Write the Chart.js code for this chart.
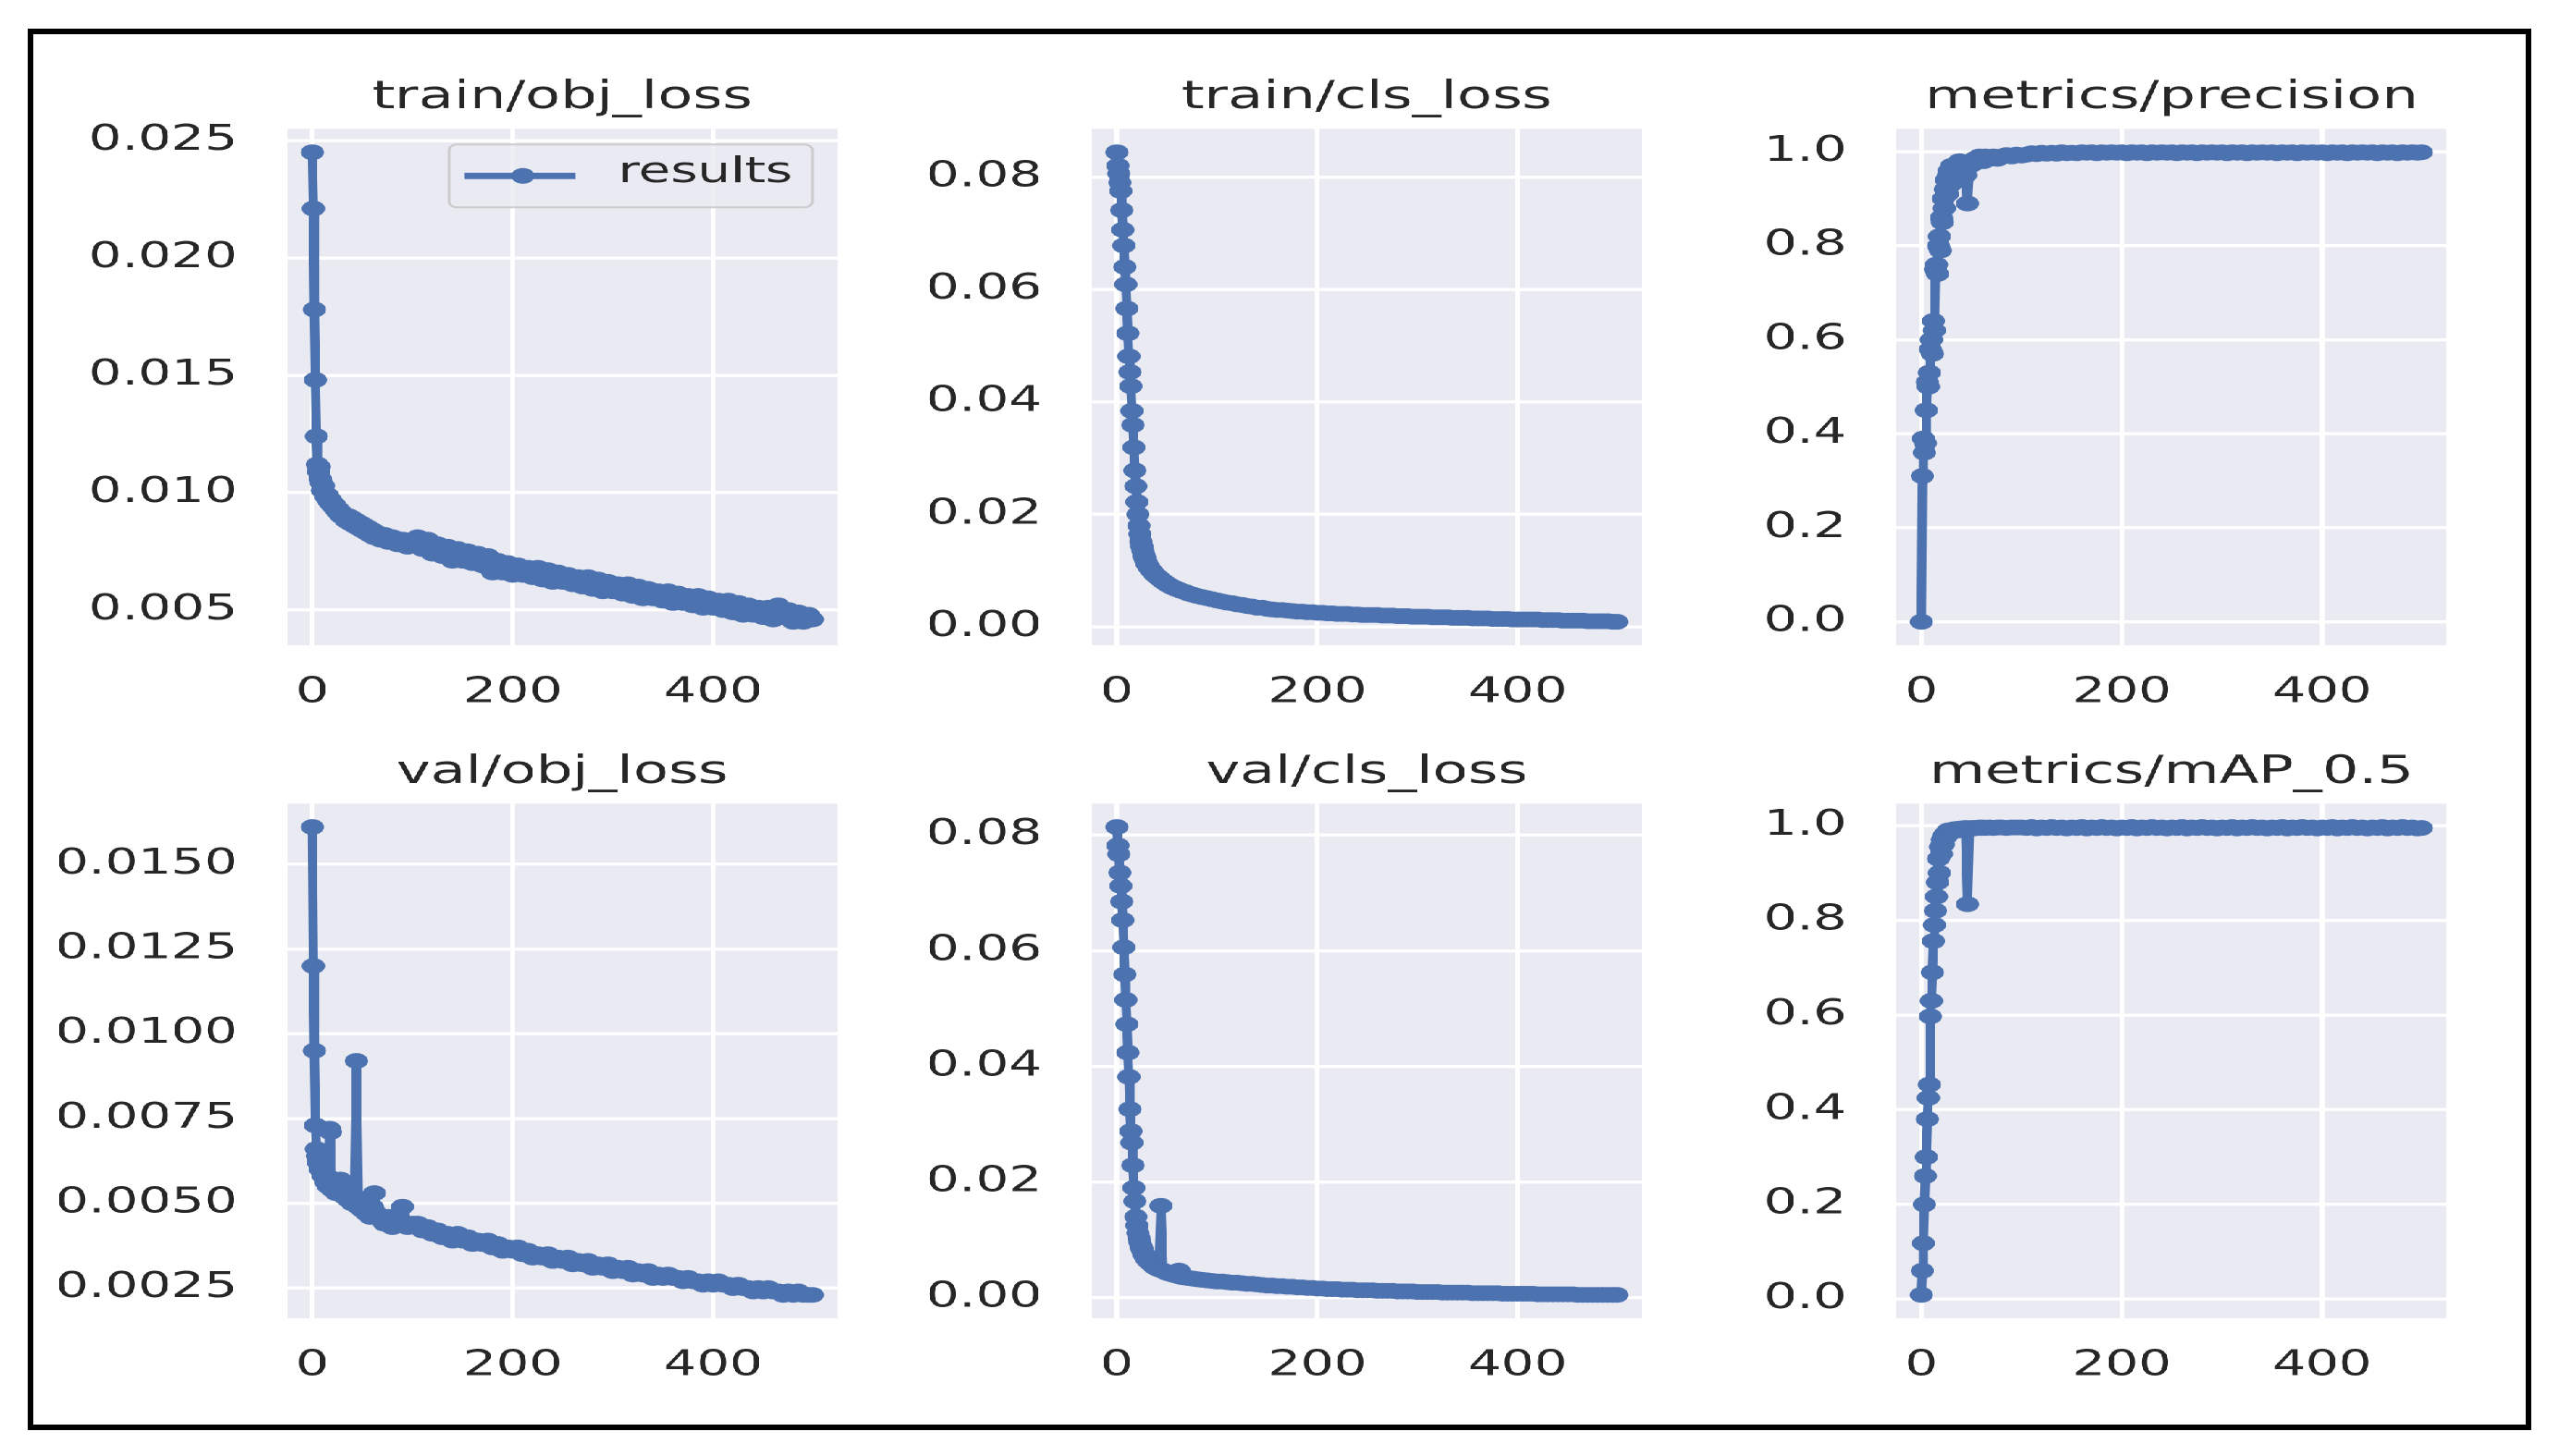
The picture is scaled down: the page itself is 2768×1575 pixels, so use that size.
<!DOCTYPE html>
<html>
<head>
<meta charset="utf-8">
<title>results</title>
<script src="https://cdn.jsdelivr.net/npm/chart.js@4.4.1/dist/chart.umd.min.js"></script>
<style>
  html, body { margin: 0; padding: 0; background: #ffffff; }
  body { width: 2768px; height: 1575px; position: relative; overflow: hidden; }
  #frame { position: absolute; left: 30px; top: 31px; width: 2708px; height: 1516px; border: 6px solid #000; box-sizing: border-box; }
  /* the picture is stretched sideways, so the panels are drawn narrow and widened */
  #stretch { position: absolute; left: 0; top: 0; width: 1871px; height: 1575px; transform: scaleX(1.48); transform-origin: 0 0; }
  .panel { position: absolute; }
</style>
</head>
<body>
<div id="frame"></div>
<div id="stretch"></div>
<script>
const epochs = [0, 1, 2, 3, 4, 5, 6, 7, 8, 9, 10, 11, 12, 13, 14, 15, 16, 17, 18, 19, 20, 21, 22, 23, 24, 25, 26, 27, 28, 29, 30,
    32, 34, 36, 38, 40, 42, 44, 46, 48, 50, 52, 54, 56, 58, 60, 62, 64,
    68, 72, 76, 80, 85, 90, 95, 100,
    105, 110, 115, 120, 125, 130, 135, 140, 145, 150,
    155, 160, 165, 170, 175, 180, 185, 190, 195, 200,
    205, 210, 215, 220, 225, 230, 235, 240, 245, 250,
    255, 260, 265, 270, 275, 280, 285, 290, 295, 300,
    305, 310, 315, 320, 325, 330, 335, 340, 345, 350,
    355, 360, 365, 370, 375, 380, 385, 390, 395, 400,
    405, 410, 415, 420, 425, 430, 435, 440, 445, 450,
    455, 460, 465, 470, 475, 480, 485, 490, 495,
    499];

const trainObjLoss = [0.0245, 0.0221, 0.0178, 0.0148, 0.0124, 0.0112, 0.0109, 0.0111, 0.0106, 0.0104, 0.0101, 0.0103, 0.0100, 0.0099, 0.0098, 0.0099, 0.0097, 0.0096, 0.0097, 0.0095, 0.0095, 0.0094, 0.0095, 0.0093, 0.0093, 0.0092, 0.0093, 0.0091, 0.0092, 0.0090, 0.0091,
    0.0090, 0.0088, 0.0090, 0.0087, 0.0089, 0.0086, 0.0088, 0.0085, 0.0087, 0.0084, 0.0086, 0.0083, 0.0085, 0.0082, 0.0084, 0.0081, 0.0083,
    0.0080, 0.0082, 0.0079, 0.0081, 0.0078, 0.0080, 0.0077, 0.0079,
    0.0081, 0.0076, 0.0080, 0.0074, 0.0078, 0.0073, 0.0077, 0.0071, 0.0076, 0.0071,
    0.0075, 0.0070, 0.0074, 0.0069, 0.0073, 0.0066, 0.0071, 0.0066, 0.0070, 0.0065,
    0.0069, 0.0065, 0.0068, 0.0064, 0.0068, 0.0063, 0.0067, 0.0062, 0.0066, 0.0062,
    0.0065, 0.0061, 0.0064, 0.0060, 0.0064, 0.0059, 0.0063, 0.0058, 0.0062, 0.0058,
    0.0061, 0.0057, 0.0061, 0.0056, 0.0060, 0.0055, 0.0059, 0.0055, 0.0058, 0.0054,
    0.0058, 0.0053, 0.0057, 0.0053, 0.0056, 0.0052, 0.0056, 0.0051, 0.0055, 0.0051,
    0.0054, 0.0050, 0.0054, 0.0049, 0.0053, 0.0048, 0.0052, 0.0048, 0.0051, 0.0047,
    0.0051, 0.0046, 0.0052, 0.0047, 0.0050, 0.0045, 0.0049, 0.0045, 0.0048,
    0.0046];

const trainClsLoss = [0.0844, 0.0820, 0.0806, 0.0790, 0.0775, 0.0741, 0.0706, 0.0678, 0.0640, 0.0609, 0.0566, 0.0522, 0.0481, 0.0453, 0.0428, 0.0384, 0.0359, 0.0319, 0.0278, 0.0250, 0.0222, 0.0200, 0.0180, 0.0165, 0.0152, 0.0143, 0.0135, 0.0128, 0.0122, 0.0117, 0.0112,
    0.0106, 0.0101, 0.0097, 0.0093, 0.0090, 0.0087, 0.0084, 0.0081, 0.0079, 0.0076, 0.0074, 0.0072, 0.0070, 0.0069, 0.0067, 0.0066, 0.0064,
    0.0062, 0.0059, 0.0057, 0.0055, 0.0053, 0.0051, 0.0049, 0.0047,
    0.0045, 0.0043, 0.0042, 0.0040, 0.0039, 0.0037, 0.0036, 0.0034, 0.0034, 0.0032,
    0.0031, 0.0030, 0.0030, 0.0029, 0.0028, 0.0027, 0.0027, 0.0026, 0.0026, 0.0025,
    0.0025, 0.0024, 0.0024, 0.0023, 0.0023, 0.0023, 0.0022, 0.0022, 0.0021, 0.0021,
    0.0021, 0.0021, 0.0020, 0.0020, 0.0020, 0.0019, 0.0019, 0.0019, 0.0018, 0.0018,
    0.0018, 0.0018, 0.0017, 0.0017, 0.0017, 0.0017, 0.0016, 0.0016, 0.0016, 0.0016,
    0.0015, 0.0015, 0.0015, 0.0015, 0.0014, 0.0014, 0.0014, 0.0014, 0.0013, 0.0013,
    0.0013, 0.0013, 0.0013, 0.0013, 0.0012, 0.0012, 0.0012, 0.0012, 0.0011, 0.0011,
    0.0011, 0.0011, 0.0011, 0.0010, 0.0010, 0.0010, 0.0010, 0.0010, 0.0009,
    0.0009];

const precision = [0.000, 0.310, 0.390, 0.360, 0.380, 0.450, 0.510, 0.500, 0.530, 0.580, 0.600, 0.570, 0.640, 0.620, 0.750, 0.760, 0.740, 0.800, 0.820, 0.790, 0.860, 0.850, 0.900, 0.880, 0.920, 0.940, 0.910, 0.950, 0.960, 0.930, 0.970,
    0.950, 0.970, 0.940, 0.980, 0.960, 0.975, 0.950, 0.890, 0.970, 0.980, 0.975, 0.985, 0.980, 0.990, 0.985, 0.980, 0.990,
    0.985, 0.990, 0.985, 0.990, 0.993, 0.990, 0.994, 0.992,
    0.994, 0.997, 0.995, 0.998, 0.996, 0.998, 0.996, 0.999, 0.997, 0.998,
    0.997, 0.999, 0.998, 0.999, 0.997, 0.999, 0.998, 0.999, 0.998, 0.999,
    0.997, 0.999, 0.998, 0.999, 0.997, 0.999, 0.998, 0.999, 0.998, 0.999,
    0.997, 0.999, 0.998, 0.999, 0.997, 0.999, 0.998, 0.999, 0.998, 0.999,
    0.997, 0.999, 0.998, 0.999, 0.997, 0.999, 0.998, 0.999, 0.998, 0.999,
    0.997, 0.999, 0.998, 0.999, 0.997, 0.999, 0.998, 0.999, 0.998, 0.999,
    0.997, 0.999, 0.998, 0.999, 0.997, 0.999, 0.998, 0.999, 0.998, 0.999,
    0.997, 0.999, 0.998, 0.999, 0.997, 0.999, 0.998, 0.999, 0.998,
    0.999];

const valObjLoss = [0.0161, 0.0120, 0.0095, 0.0073, 0.0066, 0.0064, 0.0062, 0.0065, 0.0060, 0.0062, 0.0059, 0.0058, 0.0060, 0.0057, 0.0056, 0.0058, 0.0055, 0.0072, 0.0071, 0.0055, 0.0054, 0.0056, 0.0054, 0.0055, 0.0053, 0.0056, 0.0054, 0.0053, 0.0057, 0.0053, 0.0055,
    0.0052, 0.0055, 0.0051, 0.0054, 0.0050, 0.0052, 0.0092, 0.0049, 0.0051, 0.0048, 0.0049, 0.0047, 0.0048, 0.0046, 0.0049, 0.0053, 0.0047,
    0.0046, 0.0044, 0.0046, 0.0043, 0.0045, 0.0049, 0.0043, 0.0044,
    0.0044, 0.0042, 0.0043, 0.0041, 0.0042, 0.0040, 0.0041, 0.0039, 0.0041, 0.0039,
    0.0040, 0.0038, 0.0039, 0.0038, 0.0039, 0.0037, 0.0038, 0.0036, 0.0037, 0.0036,
    0.0037, 0.0035, 0.0036, 0.0034, 0.0035, 0.0034, 0.0035, 0.0033, 0.0034, 0.0033,
    0.0034, 0.0032, 0.0033, 0.0032, 0.0033, 0.0031, 0.0032, 0.0031, 0.0032, 0.0030,
    0.0031, 0.0030, 0.0031, 0.0029, 0.0030, 0.0029, 0.0030, 0.0028, 0.0029, 0.0028,
    0.0029, 0.0028, 0.0028, 0.0027, 0.0028, 0.0027, 0.0027, 0.0026, 0.0027, 0.0026,
    0.0027, 0.0026, 0.0026, 0.0025, 0.0026, 0.0025, 0.0025, 0.0024, 0.0025, 0.0024,
    0.0025, 0.0024, 0.0024, 0.0023, 0.0024, 0.0023, 0.0024, 0.0023, 0.0023,
    0.0023];

const valClsLoss = [0.0814, 0.0782, 0.0767, 0.0735, 0.0712, 0.0685, 0.0653, 0.0606, 0.0559, 0.0515, 0.0473, 0.0424, 0.0382, 0.0326, 0.0288, 0.0268, 0.0229, 0.0190, 0.0167, 0.0140, 0.0125, 0.0112, 0.0104, 0.0096, 0.0090, 0.0085, 0.0080, 0.0076, 0.0072, 0.0069, 0.0066,
    0.0062, 0.0059, 0.0056, 0.0053, 0.0051, 0.0049, 0.0159, 0.0047, 0.0045, 0.0043, 0.0042, 0.0041, 0.0040, 0.0039, 0.0038, 0.0047, 0.0036,
    0.0035, 0.0034, 0.0033, 0.0032, 0.0031, 0.0030, 0.0029, 0.0028,
    0.0028, 0.0027, 0.0026, 0.0026, 0.0025, 0.0024, 0.0024, 0.0023, 0.0022, 0.0021,
    0.0021, 0.0020, 0.0020, 0.0019, 0.0019, 0.0018, 0.0018, 0.0017, 0.0017, 0.0016,
    0.0016, 0.0015, 0.0015, 0.0015, 0.0014, 0.0014, 0.0014, 0.0013, 0.0013, 0.0013,
    0.0013, 0.0012, 0.0012, 0.0012, 0.0012, 0.0011, 0.0011, 0.0011, 0.0011, 0.0010,
    0.0010, 0.0010, 0.0010, 0.0010, 0.0009, 0.0009, 0.0009, 0.0009, 0.0009, 0.0009,
    0.0008, 0.0008, 0.0008, 0.0008, 0.0008, 0.0008, 0.0007, 0.0007, 0.0007, 0.0007,
    0.0007, 0.0007, 0.0007, 0.0006, 0.0006, 0.0006, 0.0006, 0.0006, 0.0006, 0.0006,
    0.0006, 0.0005, 0.0005, 0.0005, 0.0005, 0.0005, 0.0005, 0.0005, 0.0005,
    0.0005];

const mAP50 = [0.009, 0.060, 0.118, 0.200, 0.260, 0.300, 0.380, 0.425, 0.453, 0.597, 0.630, 0.690, 0.756, 0.790, 0.820, 0.850, 0.880, 0.930, 0.900, 0.955, 0.940, 0.970, 0.960, 0.980, 0.975, 0.985, 0.980, 0.990, 0.985, 0.990, 0.990,
    0.992, 0.990, 0.993, 0.990, 0.994, 0.993, 0.995, 0.834, 0.994, 0.995, 0.994, 0.995, 0.995, 0.996, 0.995, 0.996, 0.995,
    0.996, 0.995, 0.996, 0.996, 0.995, 0.996, 0.996, 0.996,
    0.995, 0.997, 0.994, 0.996, 0.995, 0.997, 0.995, 0.996, 0.994, 0.996,
    0.995, 0.997, 0.994, 0.996, 0.995, 0.997, 0.995, 0.996, 0.994, 0.996,
    0.995, 0.997, 0.994, 0.996, 0.995, 0.997, 0.995, 0.996, 0.994, 0.996,
    0.995, 0.997, 0.994, 0.996, 0.995, 0.997, 0.995, 0.996, 0.994, 0.996,
    0.995, 0.997, 0.994, 0.996, 0.995, 0.997, 0.995, 0.996, 0.994, 0.996,
    0.995, 0.997, 0.994, 0.996, 0.995, 0.997, 0.995, 0.996, 0.994, 0.996,
    0.995, 0.997, 0.994, 0.996, 0.995, 0.997, 0.995, 0.996, 0.994, 0.996,
    0.995, 0.997, 0.994, 0.996, 0.995, 0.997, 0.995, 0.996, 0.994,
    0.995];

// tick values
const xTicks = [0, 200, 400];
const objTicks = [0.005, 0.010, 0.015, 0.020, 0.025];
const clsTicks = [0.00, 0.02, 0.04, 0.06, 0.08];
const unitTicks = [0.0, 0.2, 0.4, 0.6, 0.8, 1.0];
const valObjTicks = [0.0025, 0.0050, 0.0075, 0.0100, 0.0125, 0.0150];

const panels = [
    { title: 'train/obj_loss', values: trainObjLoss, ticks: objTicks, decimals: 3, row: 0, col: 0, legend: true },
    { title: 'train/cls_loss', values: trainClsLoss, ticks: clsTicks, decimals: 2, row: 0, col: 1 },
    { title: 'metrics/precision', values: precision, ticks: unitTicks, decimals: 1, row: 0, col: 2 },
    { title: 'val/obj_loss', values: valObjLoss, ticks: valObjTicks, decimals: 4, row: 1, col: 0 },
    { title: 'val/cls_loss', values: valClsLoss, ticks: clsTicks, decimals: 2, row: 1, col: 1 },
    { title: 'metrics/mAP_0.5', values: mAP50, ticks: unitTicks, decimals: 1, row: 1, col: 2 }
];

const BLUE = '#4C72B0';
const TEXT = '#262626';

// layout, in the un-stretched space
const plotLeft = [209.5, 797.6, 1385.8];
const plotTop = [138, 868];
const plotWidth = 402;
const plotHeight = [560, 558];
const yAxisWidth = 175;
const titleBlock = 58.4;
const xAxisHeight = 90;

Chart.defaults.font.family = "'DejaVu Sans', sans-serif";

// matplotlib style 5% margins
function padded(values) {
    const lo = Math.min(...values);
    const hi = Math.max(...values);
    const m = (hi - lo) * 0.05;
    return { min: lo - m, max: hi + m };
}

const plotBackground = {
    id: 'plotBackground',
    beforeDraw(chart) {
        const { ctx, chartArea: a } = chart;
        ctx.save();
        ctx.fillStyle = '#EAEAF2';
        ctx.fillRect(a.left, a.top, a.width, a.height);
        ctx.restore();
    }
};

const resultsLegend = {
    id: 'resultsLegend',
    afterDatasetsDraw(chart, args, opts) {
        if (!opts.show) return;
        const { ctx, chartArea: a } = chart;
        const w = 265.5, h = 68;
        const x = a.right - 18.3 - w;
        const y = a.top + 17;
        const cy = y + h / 2;
        ctx.save();
        ctx.beginPath();
        ctx.roundRect(x, y, w, h, 6);
        ctx.fillStyle = 'rgba(234,234,242,0.8)';
        ctx.fill();
        ctx.lineWidth = 2;
        ctx.strokeStyle = '#cccccc';
        ctx.stroke();
        ctx.beginPath();
        ctx.moveTo(x + 11.5, cy);
        ctx.lineTo(x + 92.5, cy);
        ctx.strokeStyle = BLUE;
        ctx.lineWidth = 6.8;
        ctx.stroke();
        ctx.beginPath();
        ctx.arc(x + 54, cy, 8.5, 0, Math.PI * 2);
        ctx.fillStyle = BLUE;
        ctx.fill();
        ctx.fillStyle = TEXT;
        ctx.font = "38px 'DejaVu Sans'";
        ctx.textAlign = 'left';
        ctx.textBaseline = 'middle';
        ctx.fillText(opts.text, x + 123.7, cy - 3);
        ctx.restore();
    }
};

const stretch = document.getElementById('stretch');
const xRange = padded(epochs);

panels.forEach(p => {
    const w = yAxisWidth + plotWidth;
    const h = titleBlock + plotHeight[p.row] + xAxisHeight;
    const box = document.createElement('div');
    box.className = 'panel';
    box.style.left = (plotLeft[p.col] - yAxisWidth) + 'px';
    box.style.top = (plotTop[p.row] - titleBlock) + 'px';
    const canvas = document.createElement('canvas');
    canvas.width = w;
    canvas.height = h;
    box.appendChild(canvas);
    stretch.appendChild(box);

    const yRange = padded(p.values);
    new Chart(canvas.getContext('2d'), {
        type: 'line',
        data: {
            datasets: [{
                label: 'results',
                data: epochs.map((e, i) => ({ x: e, y: p.values[i] })),
                borderColor: BLUE,
                backgroundColor: BLUE,
                borderWidth: 6.8,
                borderJoinStyle: 'round',
                pointRadius: 8.5,
                pointBorderWidth: 0,
                pointBackgroundColor: BLUE,
                tension: 0
            }]
        },
        options: {
            responsive: false,
            animation: false,
            devicePixelRatio: 2,
            events: [],
            layout: { padding: 0, autoPadding: false },
            plugins: {
                legend: { display: false },
                tooltip: { enabled: false },
                title: {
                    display: true,
                    text: p.title,
                    color: TEXT,
                    fullSize: false,
                    font: { size: 42, weight: 'normal', lineHeight: 1.2 },
                    padding: { top: 0, bottom: 8 }
                },
                resultsLegend: { show: !!p.legend, text: 'results' }
            },
            scales: {
                x: {
                    type: 'linear',
                    min: xRange.min,
                    max: xRange.max,
                    grid: { color: '#ffffff', lineWidth: 3.4, drawTicks: false },
                    border: { display: false },
                    ticks: {
                        padding: 29,
                        color: TEXT,
                        font: { size: 38 },
                        maxRotation: 0,
                        autoSkip: false,
                        callback: v => String(v)
                    },
                    afterBuildTicks: s => { s.ticks = xTicks.map(v => ({ value: v })); },
                    afterFit: s => { s.height = xAxisHeight; }
                },
                y: {
                    type: 'linear',
                    min: yRange.min,
                    max: yRange.max,
                    grid: { color: '#ffffff', lineWidth: 3.4, drawTicks: false },
                    border: { display: false },
                    ticks: {
                        padding: 36.5,
                        color: TEXT,
                        font: { size: 38 },
                        autoSkip: false,
                        callback: v => v.toFixed(p.decimals)
                    },
                    afterBuildTicks: s => { s.ticks = p.ticks.map(v => ({ value: v })); },
                    afterFit: s => { s.width = yAxisWidth; }
                }
            }
        },
        plugins: [plotBackground, resultsLegend]
    });
});
</script>
</body>
</html>
